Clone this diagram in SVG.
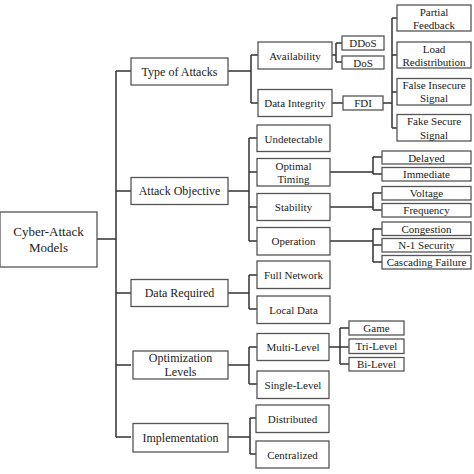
<svg xmlns="http://www.w3.org/2000/svg" width="474" height="474" viewBox="0 0 474 474">
<style>
.b{fill:#fff;stroke:#555;stroke-width:1.3}
.t{font-family:"Liberation Serif","Times New Roman",serif;font-size:11px;fill:#222;text-anchor:middle;dominant-baseline:central}
.t12{font-size:12px}
.t13{font-size:13px}
.c{fill:none;stroke:#333;stroke-width:1.5}
</style>
<rect width="474" height="474" fill="#fff"/>
<g id="connectors">
<path class="c" d="M97 239H116M116 71V437M116 71H131M116 191H131M116 293H131M116 365H131M116 437H131"/>
<path class="c" d="M228 71H251M251 55V103M251 55H258M251 103H258"/>
<path class="c" d="M332 55H336M336 43V62M336 43H342M336 62H342"/>
<path class="c" d="M332 103H343M383 103H392M392 18V128M392 18H397M392 55H397M392 92H397M392 128H397"/>
<path class="c" d="M228 191H249M249 138V241M249 138H257M249 172H257M249 207H257M249 241H257"/>
<path class="c" d="M330 172H373M373 157V174M373 157H382M373 174H382"/>
<path class="c" d="M330 207H373M373 193V210M373 193H382M373 210H382"/>
<path class="c" d="M330 241H373M373 229V262M373 229H382M373 245H382M373 262H382"/>
<path class="c" d="M228 293H249M249 275V309M249 275H257M249 309H257"/>
<path class="c" d="M228 365H249M249 347V384M249 347H257M249 384H257"/>
<path class="c" d="M329 347H349M340 328V364M340 328H349M340 364H349"/>
<path class="c" d="M228 437H250M250 418V454M250 418H256M250 454H256"/>
</g>
<g id="root"><rect class="b" x="0" y="212" width="97" height="55"/><text class="t t13" x="48.5" y="231">Cyber-Attack</text><text class="t t13" x="48.5" y="247">Models</text></g>
<g id="type-of-attacks"><rect class="b" x="131" y="58" width="97" height="27"/><text class="t t12" x="179.5" y="71.5">Type of Attacks</text></g>
<g id="attack-objective"><rect class="b" x="131" y="177.5" width="97" height="27"/><text class="t t12" x="179.5" y="191">Attack Objective</text></g>
<g id="data-required"><rect class="b" x="131" y="279.5" width="97" height="27"/><text class="t t12" x="179.5" y="293">Data Required</text></g>
<g id="optimization-levels"><rect class="b" x="133" y="351" width="95" height="28"/><text class="t t12" x="180.5" y="357.5">Optimization</text><text class="t t12" x="180.5" y="371.5">Levels</text></g>
<g id="implementation"><rect class="b" x="133" y="423.5" width="95" height="28.5"/><text class="t t12" x="180.5" y="437.5">Implementation</text></g>
<g id="availability"><rect class="b" x="258" y="42" width="74" height="27"/><text class="t" x="295" y="55.5">Availability</text></g>
<g id="data-integrity"><rect class="b" x="258" y="89.5" width="74" height="27"/><text class="t" x="295" y="103">Data Integrity</text></g>
<g id="ddos"><rect class="b" x="342" y="36" width="42" height="14"/><text class="t" x="363" y="43">DDoS</text></g>
<g id="dos"><rect class="b" x="342" y="56" width="42" height="13"/><text class="t" x="363" y="62.5">DoS</text></g>
<g id="fdi"><rect class="b" x="343" y="96" width="40" height="14"/><text class="t" x="363" y="103">FDI</text></g>
<g id="partial-feedback"><rect class="b" x="397" y="5" width="74" height="26"/><text class="t" x="434" y="11.5">Partial</text><text class="t" x="434" y="24.5">Feedback</text></g>
<g id="load-redistribution"><rect class="b" x="397" y="42" width="74" height="26"/><text class="t" x="434" y="48.5">Load</text><text class="t" x="434" y="61.5">Redistribution</text></g>
<g id="false-insecure-signal"><rect class="b" x="397" y="78.5" width="74" height="26.5"/><text class="t" x="434" y="85">False Insecure</text><text class="t" x="434" y="98">Signal</text></g>
<g id="fake-secure-signal"><rect class="b" x="397" y="114.5" width="74" height="26.5"/><text class="t" x="434" y="121">Fake Secure</text><text class="t" x="434" y="134.5">Signal</text></g>
<g id="undetectable"><rect class="b" x="257" y="125" width="73" height="26.5"/><text class="t" x="293.5" y="138.5">Undetectable</text></g>
<g id="optimal-timing"><rect class="b" x="257" y="158.5" width="73" height="27.5"/><text class="t" x="293.5" y="165.5">Optimal</text><text class="t" x="293.5" y="179">Timing</text></g>
<g id="stability"><rect class="b" x="257" y="193.5" width="73" height="27"/><text class="t" x="293.5" y="207">Stability</text></g>
<g id="operation"><rect class="b" x="257" y="227.5" width="73" height="27.5"/><text class="t" x="293.5" y="241">Operation</text></g>
<g id="delayed"><rect class="b" x="382" y="151" width="89" height="13"/><text class="t" x="426.5" y="157.5">Delayed</text></g>
<g id="immediate"><rect class="b" x="382" y="167.5" width="89" height="13.5"/><text class="t" x="426.5" y="174">Immediate</text></g>
<g id="voltage"><rect class="b" x="382" y="186.5" width="89" height="13.5"/><text class="t" x="426.5" y="193">Voltage</text></g>
<g id="frequency"><rect class="b" x="382" y="203.5" width="89" height="13.5"/><text class="t" x="426.5" y="210">Frequency</text></g>
<g id="congestion"><rect class="b" x="382" y="222" width="89" height="13.5"/><text class="t" x="426.5" y="228.5">Congestion</text></g>
<g id="n1-security"><rect class="b" x="382" y="238.5" width="89" height="13.5"/><text class="t" x="426.5" y="245">N-1 Security</text></g>
<g id="cascading-failure"><rect class="b" x="382" y="255.5" width="89" height="13.5"/><text class="t" x="426.5" y="262">Cascading Failure</text></g>
<g id="full-network"><rect class="b" x="257" y="261" width="73" height="27.5"/><text class="t" x="293.5" y="274.5">Full Network</text></g>
<g id="local-data"><rect class="b" x="257" y="296" width="73" height="27.5"/><text class="t" x="293.5" y="309.5">Local Data</text></g>
<g id="multi-level"><rect class="b" x="257" y="333.5" width="72" height="27"/><text class="t" x="293" y="347">Multi-Level</text></g>
<g id="single-level"><rect class="b" x="257" y="371" width="72" height="27.5"/><text class="t" x="293" y="384.5">Single-Level</text></g>
<g id="game"><rect class="b" x="349" y="321" width="55" height="14"/><text class="t" x="376.5" y="328">Game</text></g>
<g id="tri-level"><rect class="b" x="349" y="339" width="55" height="14.5"/><text class="t" x="376.5" y="346">Tri-Level</text></g>
<g id="bi-level"><rect class="b" x="349" y="357.5" width="55" height="13.5"/><text class="t" x="376.5" y="364">Bi-Level</text></g>
<g id="distributed"><rect class="b" x="256" y="405" width="73" height="27.5"/><text class="t" x="292.5" y="418.5">Distributed</text></g>
<g id="centralized"><rect class="b" x="256" y="441" width="73" height="27"/><text class="t" x="292.5" y="454.5">Centralized</text></g>
</svg>
